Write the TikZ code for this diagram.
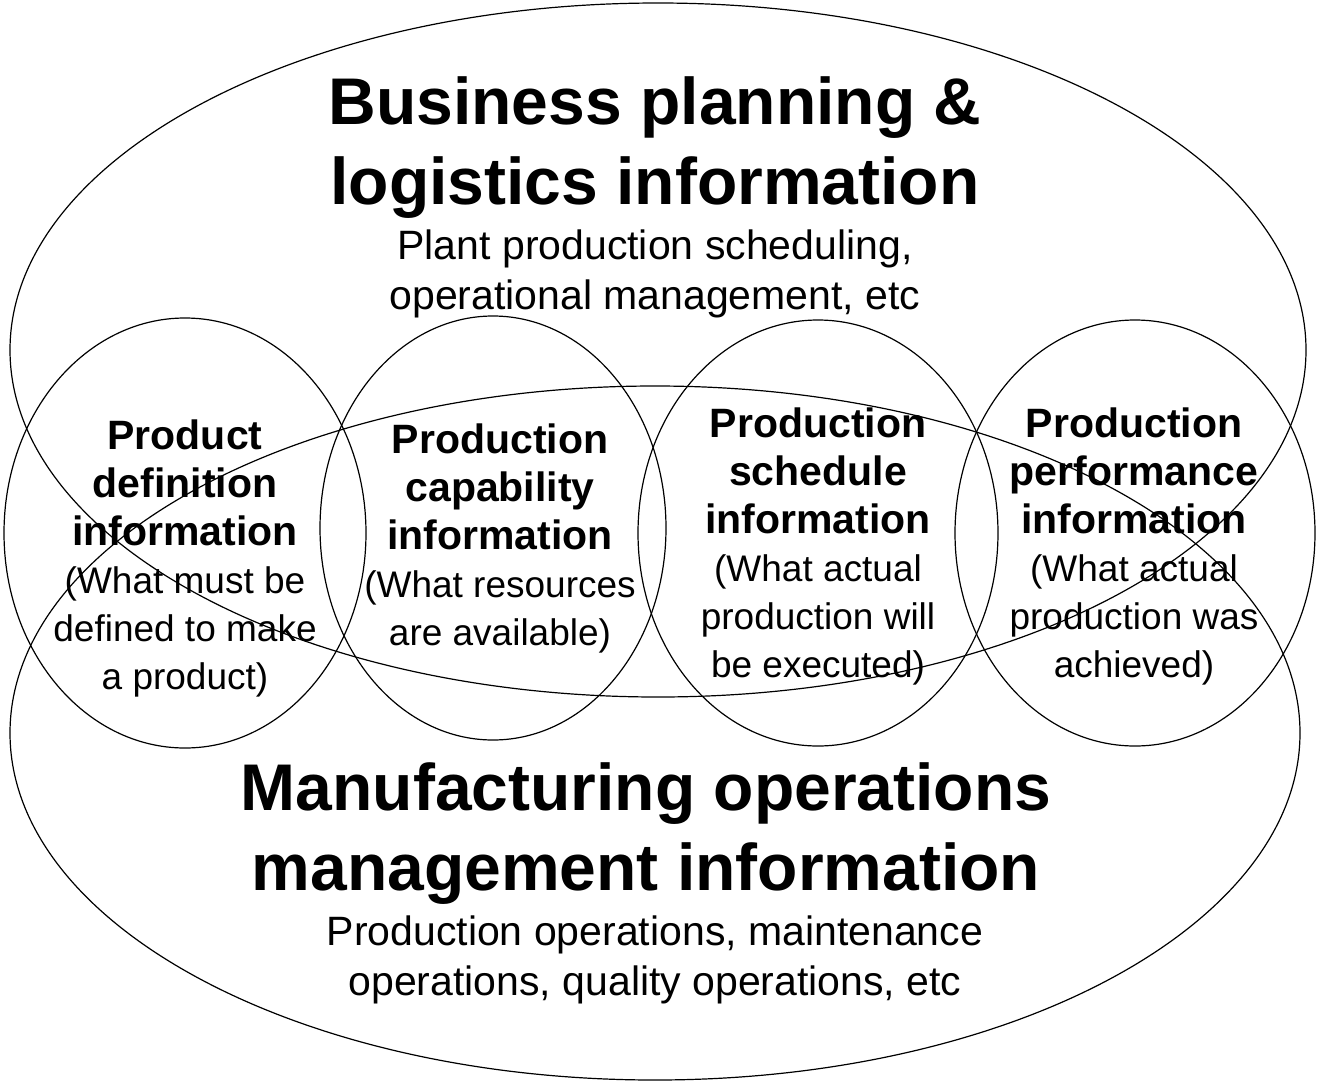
\documentclass[tikz,border=0pt]{standalone}
\usepackage{fontspec}
\setmainfont{Liberation Sans}
\begin{document}
\begin{tikzpicture}[x=1pt,y=-1pt,
  ring/.style={draw=black,line width=1.2pt},
  big/.style={font=\fontsize{66}{80}\selectfont\bfseries,align=center},
  sub/.style={font=\fontsize{41}{50}\selectfont,align=center},
  cell/.style={align=center,font=\fontsize{37}{48}\selectfont},
  hd/.style={}]
\useasboundingbox (0,0) rectangle (1317,1082);
\draw[ring] (658,350) ellipse [x radius=648,y radius=347];
\draw[ring] (655,733) ellipse [x radius=645,y radius=347];
\draw[ring] (185,533) ellipse [x radius=181,y radius=215];
\draw[ring] (493,528) ellipse [x radius=173,y radius=212];
\draw[ring] (818,533) ellipse [x radius=180,y radius=213];
\draw[ring] (1135,533) ellipse [x radius=180,y radius=213];
\node[big] (t1) at (655,148) {Business planning \&\\logistics information};
\node[sub] (s1) at (655,274) {Plant production scheduling,\\operational management, etc};
\node[big] (t2) at (646,834) {Manufacturing operations\\management information};
\node[sub] (s2) at (655,960) {Production operations, maintenance\\operations, quality operations, etc};
\newcommand\hb[1]{{\fontsize{41}{48}\selectfont\bfseries #1}}
\node[cell] (c1) at (185,558) {\hb{Product}\\\hb{definition}\\\hb{information}\\(What must be\\defined to make\\a product)};
\node[cell] (c2) at (500,538) {\hb{Production}\\\hb{capability}\\\hb{information}\\(What resources\\are available)};
\node[cell] (c3) at (818,546) {\hb{Production}\\\hb{schedule}\\\hb{information}\\(What actual\\production will\\be executed)};
\node[cell] (c4) at (1134,546) {\hb{Production}\\\hb{performance}\\\hb{information}\\(What actual\\production was\\achieved)};
\end{tikzpicture}
\end{document}
